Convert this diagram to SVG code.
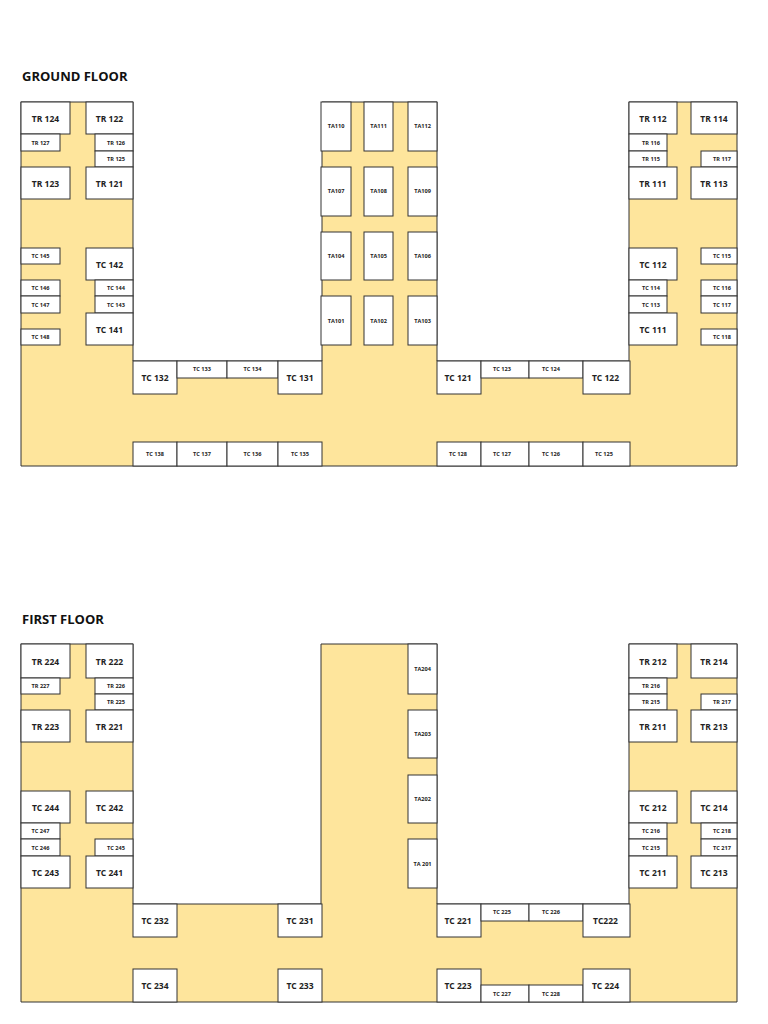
<svg xmlns="http://www.w3.org/2000/svg" width="768" height="1024" viewBox="0 0 768 1024">
<style>
.fl{fill:#FEE59C;stroke:#333;stroke-width:1}
g rect{fill:#fff;stroke:#333;stroke-width:1}
text{font-family:"Open Sans","Liberation Sans",sans-serif;font-weight:700;fill:#222;text-anchor:middle;dominant-baseline:central}
.b{font-size:8.5px}
.s{font-size:5.6px}
.t{font-size:13px;text-anchor:start;fill:#111}
</style>
<rect width="768" height="1024" fill="#fff"/>
<text class="t" x="22" y="76">GROUND FLOOR</text>
<text class="t" x="22" y="619">FIRST FLOOR</text>
<path class="fl" d="M21,102H133V361H322V102H437V361H629V102H737V466H21Z"/>
<path class="fl" d="M21,644H133V904H321V644H437V904H629V644H737V1002H21Z"/>
<g id="ground">
<g id="TR124"><rect x="21" y="102" width="49" height="32"/><text class="b" x="45.5" y="118">TR 124</text></g>
<g id="TR122"><rect x="86" y="102" width="47" height="32"/><text class="b" x="109.5" y="118">TR 122</text></g>
<g id="TR127"><rect x="21" y="134" width="39" height="17"/><text class="s" x="40.5" y="142.5">TR 127</text></g>
<g id="TR126"><rect x="95" y="134" width="38" height="17"/><text class="s" x="116" y="142.5">TR 126</text></g>
<g id="TR125"><rect x="95" y="151" width="38" height="16"/><text class="s" x="116" y="159">TR 125</text></g>
<g id="TR123"><rect x="21" y="167" width="49" height="32"/><text class="b" x="45.5" y="183">TR 123</text></g>
<g id="TR121"><rect x="86" y="167" width="47" height="32"/><text class="b" x="109.5" y="183">TR 121</text></g>
<g id="TC145"><rect x="21" y="248" width="39" height="16"/><text class="s" x="40.5" y="256">TC 145</text></g>
<g id="TC142"><rect x="86" y="248" width="47" height="32"/><text class="b" x="109.5" y="264">TC 142</text></g>
<g id="TC146"><rect x="21" y="280" width="39" height="16"/><text class="s" x="40.5" y="288">TC 146</text></g>
<g id="TC147"><rect x="21" y="296" width="39" height="17"/><text class="s" x="40.5" y="304.5">TC 147</text></g>
<g id="TC144"><rect x="95" y="280" width="38" height="16"/><text class="s" x="116" y="288">TC 144</text></g>
<g id="TC143"><rect x="95" y="296" width="38" height="17"/><text class="s" x="116" y="304.5">TC 143</text></g>
<g id="TC141"><rect x="86" y="313" width="47" height="32"/><text class="b" x="109.5" y="329">TC 141</text></g>
<g id="TC148"><rect x="21" y="329" width="39" height="16"/><text class="s" x="40.5" y="337">TC 148</text></g>
<g id="TC132"><rect x="133" y="361" width="44" height="33"/><text class="b" x="155" y="377.5">TC 132</text></g>
<g id="TC133"><rect x="177" y="361" width="50" height="17"/><text class="s" x="202" y="369">TC 133</text></g>
<g id="TC134"><rect x="227" y="361" width="51" height="17"/><text class="s" x="252.5" y="369">TC 134</text></g>
<g id="TC131"><rect x="278" y="361" width="44" height="33"/><text class="b" x="300" y="377.5">TC 131</text></g>
<g id="TC138"><rect x="133" y="442" width="44" height="24"/><text class="s" x="155" y="454">TC 138</text></g>
<g id="TC137"><rect x="177" y="442" width="50" height="24"/><text class="s" x="202" y="454">TC 137</text></g>
<g id="TC136"><rect x="227" y="442" width="51" height="24"/><text class="s" x="252.5" y="454">TC 136</text></g>
<g id="TC135"><rect x="278" y="442" width="44" height="24"/><text class="s" x="300" y="454">TC 135</text></g>
<g id="TA110"><rect x="321" y="102" width="30" height="49"/><text class="s" x="336" y="126">TA110</text></g>
<g id="TA111"><rect x="364" y="102" width="29" height="49"/><text class="s" x="378.5" y="126">TA111</text></g>
<g id="TA112"><rect x="408" y="102" width="29" height="49"/><text class="s" x="422.5" y="126">TA112</text></g>
<g id="TA107"><rect x="321" y="167" width="30" height="49"/><text class="s" x="336" y="191">TA107</text></g>
<g id="TA108"><rect x="364" y="167" width="29" height="49"/><text class="s" x="378.5" y="191">TA108</text></g>
<g id="TA109"><rect x="408" y="167" width="29" height="49"/><text class="s" x="422.5" y="191">TA109</text></g>
<g id="TA104"><rect x="321" y="232" width="30" height="48"/><text class="s" x="336" y="256">TA104</text></g>
<g id="TA105"><rect x="364" y="232" width="29" height="48"/><text class="s" x="378.5" y="256">TA105</text></g>
<g id="TA106"><rect x="408" y="232" width="29" height="48"/><text class="s" x="422.5" y="256">TA106</text></g>
<g id="TA101"><rect x="321" y="296" width="30" height="49"/><text class="s" x="336" y="320.5">TA101</text></g>
<g id="TA102"><rect x="364" y="296" width="29" height="49"/><text class="s" x="378.5" y="320.5">TA102</text></g>
<g id="TA103"><rect x="408" y="296" width="29" height="49"/><text class="s" x="422.5" y="320.5">TA103</text></g>
<g id="TR112"><rect x="629" y="102" width="48" height="32"/><text class="b" x="653" y="118">TR 112</text></g>
<g id="TR114"><rect x="691" y="102" width="46" height="32"/><text class="b" x="714" y="118">TR 114</text></g>
<g id="TR116"><rect x="629" y="134" width="38" height="17"/><text class="s" x="651" y="142.5">TR 116</text></g>
<g id="TR115"><rect x="629" y="151" width="38" height="16"/><text class="s" x="651" y="159">TR 115</text></g>
<g id="TR117"><rect x="701" y="151" width="36" height="16"/><text class="s" x="722" y="159">TR 117</text></g>
<g id="TR111"><rect x="629" y="167" width="48" height="32"/><text class="b" x="653" y="183">TR 111</text></g>
<g id="TR113"><rect x="691" y="167" width="46" height="32"/><text class="b" x="714" y="183">TR 113</text></g>
<g id="TC115"><rect x="701" y="248" width="36" height="16"/><text class="s" x="722" y="256">TC 115</text></g>
<g id="TC112"><rect x="629" y="248" width="48" height="32"/><text class="b" x="653" y="264">TC 112</text></g>
<g id="TC114"><rect x="629" y="280" width="38" height="16"/><text class="s" x="651" y="288">TC 114</text></g>
<g id="TC113"><rect x="629" y="296" width="38" height="17"/><text class="s" x="651" y="304.5">TC 113</text></g>
<g id="TC116"><rect x="701" y="280" width="36" height="16"/><text class="s" x="722" y="288">TC 116</text></g>
<g id="TC117"><rect x="701" y="296" width="36" height="17"/><text class="s" x="722" y="304.5">TC 117</text></g>
<g id="TC111"><rect x="629" y="313" width="48" height="32"/><text class="b" x="653" y="329">TC 111</text></g>
<g id="TC118"><rect x="701" y="329" width="36" height="16"/><text class="s" x="722" y="337">TC 118</text></g>
<g id="TC121"><rect x="437" y="361" width="44" height="33"/><text class="b" x="458" y="377.5">TC 121</text></g>
<g id="TC123"><rect x="481" y="361" width="48" height="17"/><text class="s" x="502" y="369">TC 123</text></g>
<g id="TC124"><rect x="529" y="361" width="54" height="17"/><text class="s" x="551" y="369">TC 124</text></g>
<g id="TC122"><rect x="583" y="361" width="47" height="33"/><text class="b" x="605.5" y="377.5">TC 122</text></g>
<g id="TC128"><rect x="437" y="442" width="44" height="24"/><text class="s" x="458" y="454">TC 128</text></g>
<g id="TC127"><rect x="481" y="442" width="48" height="24"/><text class="s" x="502" y="454">TC 127</text></g>
<g id="TC126"><rect x="529" y="442" width="54" height="24"/><text class="s" x="551" y="454">TC 126</text></g>
<g id="TC125"><rect x="583" y="442" width="47" height="24"/><text class="s" x="604" y="454">TC 125</text></g>
</g>
<g id="first">
<g id="TR224"><rect x="21" y="644" width="49" height="34"/><text class="b" x="45.5" y="661">TR 224</text></g>
<g id="TR222"><rect x="86" y="644" width="47" height="34"/><text class="b" x="109.5" y="661">TR 222</text></g>
<g id="TR227"><rect x="21" y="678" width="39" height="16"/><text class="s" x="40.5" y="686">TR 227</text></g>
<g id="TR226"><rect x="95" y="678" width="38" height="16"/><text class="s" x="116" y="686">TR 226</text></g>
<g id="TR225"><rect x="95" y="694" width="38" height="16"/><text class="s" x="116" y="702">TR 225</text></g>
<g id="TR223"><rect x="21" y="710" width="49" height="32"/><text class="b" x="45.5" y="726">TR 223</text></g>
<g id="TR221"><rect x="86" y="710" width="47" height="32"/><text class="b" x="109.5" y="726">TR 221</text></g>
<g id="TC244"><rect x="21" y="791" width="49" height="32"/><text class="b" x="45.5" y="807">TC 244</text></g>
<g id="TC242"><rect x="86" y="791" width="47" height="32"/><text class="b" x="109.5" y="807">TC 242</text></g>
<g id="TC247"><rect x="21" y="823" width="39" height="16"/><text class="s" x="40.5" y="831">TC 247</text></g>
<g id="TC246"><rect x="21" y="839" width="39" height="17"/><text class="s" x="40.5" y="847.5">TC 246</text></g>
<g id="TC245"><rect x="95" y="839" width="38" height="17"/><text class="s" x="116" y="847.5">TC 245</text></g>
<g id="TC243"><rect x="21" y="856" width="49" height="32"/><text class="b" x="45.5" y="872">TC 243</text></g>
<g id="TC241"><rect x="86" y="856" width="47" height="32"/><text class="b" x="109.5" y="872">TC 241</text></g>
<g id="TC232"><rect x="133" y="904" width="44" height="33"/><text class="b" x="155" y="920.5">TC 232</text></g>
<g id="TC231"><rect x="278" y="904" width="44" height="33"/><text class="b" x="300" y="920.5">TC 231</text></g>
<g id="TC234"><rect x="133" y="969" width="44" height="33"/><text class="b" x="155" y="985.5">TC 234</text></g>
<g id="TC233"><rect x="278" y="969" width="44" height="33"/><text class="b" x="300" y="985.5">TC 233</text></g>
<g id="TA204"><rect x="408" y="644" width="29" height="50"/><text class="s" x="422.5" y="669">TA204</text></g>
<g id="TA203"><rect x="408" y="710" width="29" height="48"/><text class="s" x="422.5" y="734">TA203</text></g>
<g id="TA202"><rect x="408" y="775" width="29" height="48"/><text class="s" x="422.5" y="799">TA202</text></g>
<g id="TA201"><rect x="408" y="839" width="29" height="49"/><text class="s" x="422.5" y="863.5">TA 201</text></g>
<g id="TR212"><rect x="629" y="644" width="48" height="34"/><text class="b" x="653" y="661">TR 212</text></g>
<g id="TR214"><rect x="691" y="644" width="46" height="34"/><text class="b" x="714" y="661">TR 214</text></g>
<g id="TR216"><rect x="629" y="678" width="38" height="16"/><text class="s" x="651" y="686">TR 216</text></g>
<g id="TR215"><rect x="629" y="694" width="38" height="16"/><text class="s" x="651" y="702">TR 215</text></g>
<g id="TR217"><rect x="701" y="694" width="36" height="16"/><text class="s" x="722" y="702">TR 217</text></g>
<g id="TR211"><rect x="629" y="710" width="48" height="32"/><text class="b" x="653" y="726">TR 211</text></g>
<g id="TR213"><rect x="691" y="710" width="46" height="32"/><text class="b" x="714" y="726">TR 213</text></g>
<g id="TC212"><rect x="629" y="791" width="48" height="32"/><text class="b" x="653" y="807">TC 212</text></g>
<g id="TC214"><rect x="691" y="791" width="46" height="32"/><text class="b" x="714" y="807">TC 214</text></g>
<g id="TC216"><rect x="629" y="823" width="38" height="16"/><text class="s" x="651" y="831">TC 216</text></g>
<g id="TC215"><rect x="629" y="839" width="38" height="17"/><text class="s" x="651" y="847.5">TC 215</text></g>
<g id="TC218"><rect x="701" y="823" width="36" height="16"/><text class="s" x="722" y="831">TC 218</text></g>
<g id="TC217"><rect x="701" y="839" width="36" height="17"/><text class="s" x="722" y="847.5">TC 217</text></g>
<g id="TC211"><rect x="629" y="856" width="48" height="32"/><text class="b" x="653" y="872">TC 211</text></g>
<g id="TC213"><rect x="691" y="856" width="46" height="32"/><text class="b" x="714" y="872">TC 213</text></g>
<g id="TC221"><rect x="437" y="904" width="44" height="33"/><text class="b" x="458" y="920.5">TC 221</text></g>
<g id="TC225"><rect x="481" y="904" width="48" height="17"/><text class="s" x="502" y="912">TC 225</text></g>
<g id="TC226"><rect x="529" y="904" width="54" height="17"/><text class="s" x="551" y="912">TC 226</text></g>
<g id="TC222"><rect x="583" y="904" width="47" height="33"/><text class="b" x="605.5" y="920.5">TC222</text></g>
<g id="TC223"><rect x="437" y="969" width="44" height="33"/><text class="b" x="458" y="985.5">TC 223</text></g>
<g id="TC227"><rect x="481" y="985" width="48" height="17"/><text class="s" x="502" y="993.5">TC 227</text></g>
<g id="TC228"><rect x="529" y="985" width="54" height="17"/><text class="s" x="551" y="993.5">TC 228</text></g>
<g id="TC224"><rect x="583" y="969" width="47" height="33"/><text class="b" x="605.5" y="985.5">TC 224</text></g>
</g>
<g id="connectors"/>
</svg>
